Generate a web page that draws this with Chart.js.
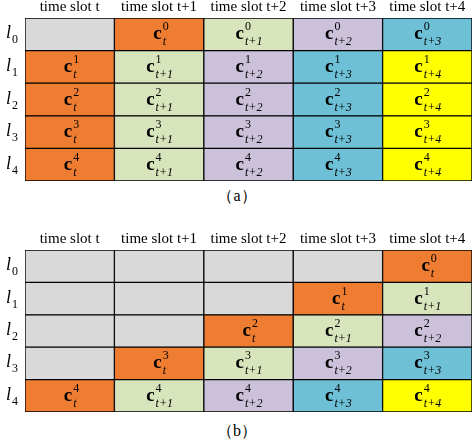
<!DOCTYPE html>
<html><head><meta charset="utf-8">
<script src="https://cdn.jsdelivr.net/npm/chart.js@4"></script>
<style>
body{margin:0;background:#fff;width:474px;height:440px;overflow:hidden;font-family:"Liberation Serif",serif}
.box{position:absolute;left:0;width:474px}
.cap{position:absolute;left:0;width:474px;text-align:center;font-size:16px}
</style></head><body>
<div class="box" style="top:0;height:184px"><canvas id="chartA"></canvas></div>
<div class="cap" style="top:186px">（a）</div>
<div class="box" style="top:225px;height:190px"><canvas id="chartB"></canvas></div>
<div class="cap" style="top:421px">（b）</div>
<script>
// columns, rows and cell contents
const columns = ['time slot t', 'time slot t+1', 'time slot t+2', 'time slot t+3', 'time slot t+4'];
const rowIds = ['0', '1', '2', '3', '4'];
const slotSubs = ['t', 't+1', 't+2', 't+3', 't+4'];
const palette = {g: '#d9d9d9', o: '#ee7d31', l: '#d8e4bc', p: '#ccc1da', b: '#6dc0d5', y: '#ffff00'};

// colour code of each cell, row by row
const fillA = ['golpb', 'olpby', 'olpby', 'olpby', 'olpby'];
const fillB = ['ggggo', 'gggol', 'ggolp', 'golpb', 'olpby'];
// which c-superscript each cell shows ('' = empty)
const superA = ['-0000', '11111', '22222', '33333', '44444'];
const superB = ['----0', '---11', '--222', '-3333', '44444'];
// which time offset each cell's subscript uses
const subA = ['-0123', '01234', '01234', '01234', '01234'];
const subB = ['----0', '---01', '--012', '-0123', '01234'];

function makeChart(id, fill, sup, sub, padTop) {
    const datasets = columns.map((c, j) => ({
        label: c,
        data: rowIds.map(() => 1),
        backgroundColor: rowIds.map((r, i) => palette[fill[i][j]]),
        borderColor: '#000',
        borderWidth: 1,
        borderSkipped: false,
        barPercentage: 1,
        categoryPercentage: 1
    }));
    const cellText = {
        id: 'cellText',
        afterDatasetsDraw(chart) {
            const ctx = chart.ctx;
            ctx.save();
            ctx.fillStyle = '#000';
            chart.data.datasets.forEach((ds, j) => {
                const meta = chart.getDatasetMeta(j);
                // column header
                const e0 = meta.data[0];
                ctx.font = '15px "Liberation Serif"';
                ctx.textAlign = 'center';
                ctx.fillText(ds.label, (e0.x + e0.base) / 2, chart.chartArea.top - 7);
                meta.data.forEach((el, i) => {
                    const s = sup[i][j];
                    if (s === '-') return;
                    const cx = (el.x + el.base) / 2, cy = el.y;
                    const subTxt = slotSubs[+sub[i][j]];
                    ctx.textAlign = 'left';
                    ctx.font = 'bold 19px "Liberation Serif"';
                    const w = ctx.measureText('c').width;
                    ctx.font = 'italic 12px "Liberation Serif"';
                    const ws = ctx.measureText(subTxt).width;
                    const x0 = cx - (w + ws) / 2;
                    ctx.font = 'bold 19px "Liberation Serif"';
                    ctx.fillText('c', x0, cy + 5);
                    ctx.font = '12px "Liberation Serif"';
                    ctx.fillText(s, x0 + w + 1, cy - 4);
                    ctx.font = 'italic 12px "Liberation Serif"';
                    ctx.fillText(subTxt, x0 + w + 1, cy + 11);
                });
            });
            // row labels
            chart.getDatasetMeta(0).data.forEach((el, i) => {
                ctx.textAlign = 'left';
                ctx.font = 'italic 18px "Liberation Serif"';
                ctx.fillText('l', 6, el.y + 4);
                ctx.font = '12px "Liberation Serif"';
                ctx.fillText(rowIds[i], 12, el.y + 9);
            });
            ctx.restore();
        }
    };
    return new Chart(document.getElementById(id), {
        type: 'bar',
        data: {labels: rowIds, datasets: datasets},
        options: {
            indexAxis: 'y',
            responsive: true,
            maintainAspectRatio: false,
            animation: false,
            layout: {padding: {top: padTop, left: 25, right: 2, bottom: 3}},
            plugins: {legend: {display: false}, tooltip: {enabled: false}},
            scales: {
                x: {stacked: true, min: 0, max: 5, display: false},
                y: {stacked: true, display: false}
            }
        },
        plugins: [cellText]
    });
}

makeChart('chartA', fillA, superA, subA, 18);
makeChart('chartB', fillB, superB, subB, 25);
</script>
</body></html>
